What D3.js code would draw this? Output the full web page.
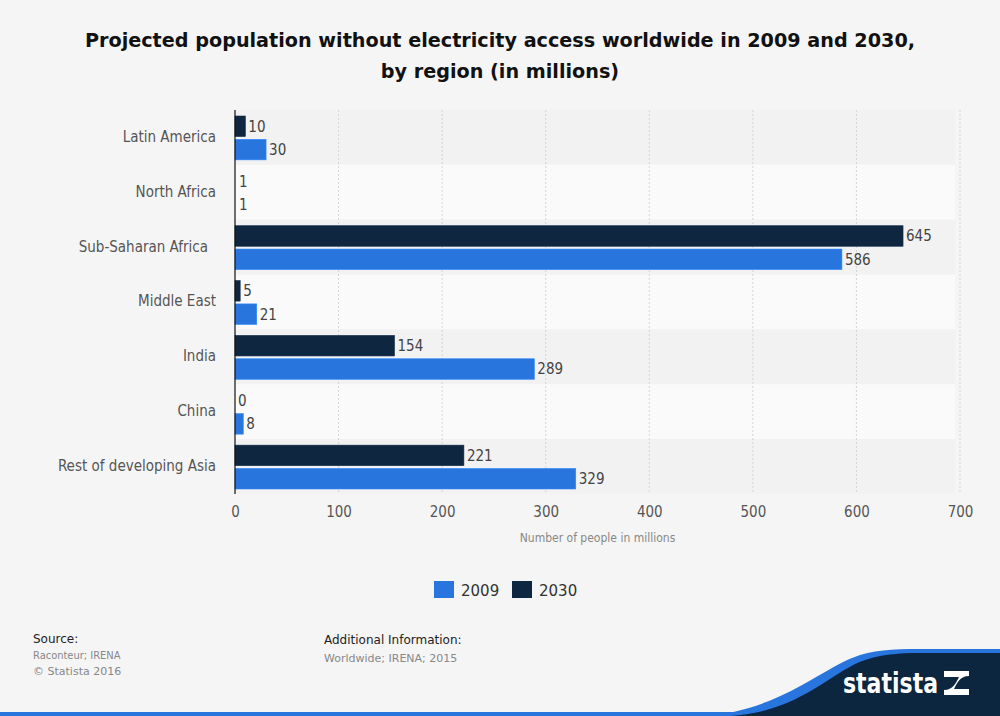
<!DOCTYPE html>
<html>
<head>
<meta charset="utf-8">
<script src="https://cdn.jsdelivr.net/npm/d3@7"></script>
<style>
  body { margin: 0; background: #f5f5f5; }
  svg { display: block; }
  .cond { font-family: 'DejaVu Sans Condensed', 'DejaVu Sans', sans-serif; font-stretch: condensed; }
</style>
</head>
<body>
<div id="chart"></div>
<script>
// data
var regions = ["Latin America", "North Africa", "Sub-Saharan Africa", "Middle East", "India", "China", "Rest of developing Asia"];
var values2030 = [10, 1, 645, 5, 154, 0, 221];
var values2009 = [30, 1, 586, 21, 289, 8, 329];
var seriesNames = ["2009", "2030"];
var xTicks = [0, 100, 200, 300, 400, 500, 600, 700];

var W = 1000, H = 716;
var margin = {top: 110, right: 40, bottom: 222, left: 235};
var width = 960 - margin.left, height = 494 - margin.top;

var svg = d3.select("#chart").append("svg")
    .attr("width", W)
    .attr("height", H)
    .style("font-family", "'DejaVu Sans', sans-serif");

svg.append("rect").attr("width", W).attr("height", H).attr("fill", "#f5f5f5");

// title
var title = svg.append("text")
    .attr("x", 500)
    .attr("text-anchor", "middle")
    .attr("font-weight", "bold")
    .attr("font-size", 19.2)
    .attr("fill", "#111");
title.append("tspan").attr("x", 500).attr("y", 47).text("Projected population without electricity access worldwide in 2009 and 2030,");
title.append("tspan").attr("x", 500).attr("y", 78).text("by region (in millions)");

var g = svg.append("g").attr("transform", "translate(" + margin.left + "," + margin.top + ")");

var x = d3.scaleLinear().domain([0, 700]).range([0, width]);
var y = d3.scaleBand().domain(regions).range([0, height]);
var inner = d3.scaleBand().domain(["2030", "2009"]).range([6, y.bandwidth() - 5]).paddingInner(0.12);

// alternating row bands
g.selectAll("rect.band")
    .data(regions)
    .enter().append("rect")
    .attr("class", "band")
    .attr("x", 0)
    .attr("y", function(d) { return y(d); })
    .attr("width", width - 5)
    .attr("height", y.bandwidth())
    .attr("fill", function(d, i) { return i % 2 ? "#fafafa" : "#f2f2f2"; });

// grid lines
g.selectAll("line.grid")
    .data(xTicks.slice(1))
    .enter().append("line")
    .attr("x1", function(d) { return x(d); })
    .attr("x2", function(d) { return x(d); })
    .attr("y1", 0)
    .attr("y2", height)
    .attr("stroke", "#d4d4d4")
    .attr("stroke-dasharray", "2,2");

var colors = {"2009": "#2876dd", "2030": "#0f2640"};
var series = [
    {name: "2030", values: values2030},
    {name: "2009", values: values2009}
];

series.forEach(function(s) {
    var rows = regions.map(function(r, i) { return {region: r, value: s.values[i]}; });
    g.selectAll("rect.bar-" + s.name)
        .data(rows.filter(function(d) { return d.value > 1; }))
        .enter().append("rect")
        .attr("class", "bar-" + s.name)
        .attr("x", 0)
        .attr("y", function(d) { return y(d.region) + inner(s.name); })
        .attr("width", function(d) { return x(d.value); })
        .attr("height", inner.bandwidth())
        .attr("fill", colors[s.name])
        .attr("stroke", d3.color(colors[s.name]).brighter(0.4))
        .attr("stroke-width", 0.6);

    g.selectAll("text.lbl-" + s.name)
        .data(rows)
        .enter().append("text")
        .attr("class", "lbl-" + s.name + " cond")
        .attr("x", function(d) { return x(d.value) + 3; })
        .attr("y", function(d) { return y(d.region) + inner(s.name) + inner.bandwidth() / 2; })
        .attr("dy", "0.36em")
        .attr("font-size", 15)
        .attr("fill", "#444")
        .text(function(d) { return d.value; });
});

// y axis
g.append("line")
    .attr("x1", 0).attr("x2", 0)
    .attr("y1", 0).attr("y2", height)
    .attr("stroke", "#111")
    .attr("stroke-width", 1.2);

g.selectAll("text.ylab")
    .data(regions)
    .enter().append("text")
    .attr("class", "ylab cond")
    .attr("x", function(d) { return d === "Sub-Saharan Africa" ? -27 : -19; })
    .attr("y", function(d) { return y(d) + y.bandwidth() / 2 - 1; })
    .attr("dy", "0.36em")
    .attr("text-anchor", "end")
    .attr("font-size", 15)
    .attr("fill", "#555")
    .text(function(d) { return d; });

// x axis labels
var xAxis = g.append("g")
    .attr("transform", "translate(0," + height + ")")
    .call(d3.axisBottom(x).tickValues(xTicks).tickSize(0).tickPadding(12));
xAxis.select(".domain").remove();
xAxis.attr("font-family", null).attr("font-size", null);
xAxis.selectAll("text")
    .attr("class", "cond")
    .attr("font-size", 15)
    .attr("fill", "#555");

svg.append("text")
    .attr("class", "cond")
    .attr("x", margin.left + width / 2)
    .attr("y", 542)
    .attr("text-anchor", "middle")
    .attr("font-size", 12)
    .attr("fill", "#888")
    .text("Number of people in millions");

// legend
var legend = svg.append("g").attr("transform", "translate(434,581)");
var lx = 0;
seriesNames.forEach(function(n) {
    legend.append("rect").attr("x", lx).attr("y", 0).attr("width", 20).attr("height", 17).attr("fill", colors[n]);
    legend.append("text").attr("x", lx + 27).attr("y", 14.5).attr("font-size", 15).attr("fill", "#333").text(n);
    lx += 78;
});

// footer
svg.append("text").attr("x", 33).attr("y", 643).attr("font-size", 12).attr("fill", "#222").text("Source:");
svg.append("text").attr("x", 33).attr("y", 659).attr("font-size", 11).attr("fill", "#888").attr("class", "cond").text("Raconteur; IRENA");
svg.append("text").attr("x", 33).attr("y", 675).attr("font-size", 11).attr("fill", "#888").text("\u00a9 Statista 2016");
svg.append("text").attr("x", 324).attr("y", 644).attr("font-size", 12).attr("fill", "#222").text("Additional Information:");
svg.append("text").attr("x", 324).attr("y", 662).attr("font-size", 11).attr("fill", "#888").text("Worldwide; IRENA; 2015");

// bottom stripe and statista wave
svg.append("rect").attr("x", 0).attr("y", 712).attr("width", W).attr("height", 4).attr("fill", "#2876dd");
svg.append("path")
    .attr("d", "M700,716 C780,712 820,668 860,655 C880,649 900,649 930,649 L1000,649 L1000,716 Z")
    .attr("fill", "#2876dd");
svg.append("path")
    .attr("d", "M730,716 C800,712 830,672 865,660 C885,653 905,653 930,653 L1000,653 L1000,716 Z")
    .attr("fill", "#0d2640");
svg.append("text")
    .attr("class", "cond")
    .attr("x", 843).attr("y", 693)
    .attr("font-size", 28)
    .attr("font-weight", "bold")
    .attr("fill", "#fff")
    .attr("textLength", 95)
    .attr("lengthAdjust", "spacingAndGlyphs")
    .text("statista");
svg.append("path")
    .attr("d", "M944,671 L969,671 L969,676 C960,676 957,683 954,689 L969,689 L969,695 L944,695 L944,690 C953,690 956,683 959,677 L944,677 Z")
    .attr("fill", "#fff");
</script>
</body>
</html>
